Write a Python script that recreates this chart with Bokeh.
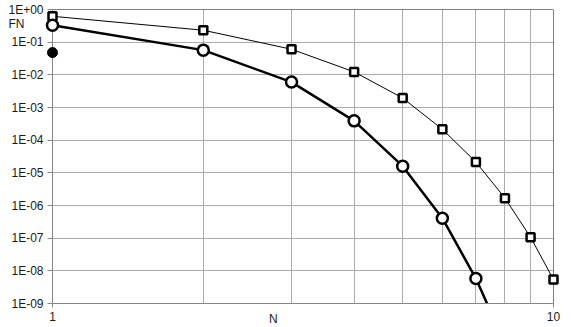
from bokeh.plotting import figure
from bokeh.models import Range1d, FixedTicker, CustomJSTickFormatter, Span
from bokeh.core.properties import value
from bokeh.embed import file_html
from bokeh.resources import INLINE

# ---- data ----
n_square = [1, 2, 3, 4, 5, 6, 7, 8, 9, 10]
fn_square = [0.62, 0.232, 0.0607, 0.0123, 1.95e-3, 2.15e-4, 2.14e-5, 1.68e-6, 1.07e-7, 5.4e-9]

n_circle = [1, 2, 3, 4, 5, 6, 7, 8]
fn_circle = [0.33, 0.057, 6.0e-3, 3.9e-4, 1.6e-5, 4.1e-7, 5.8e-9, 6.0e-11]

n_point = [1]
fn_point = [0.048]

y_ticks = [1e-9, 1e-8, 1e-7, 1e-6, 1e-5, 1e-4, 1e-3, 1e-2, 1e-1, 1.0]
x_ticks = [1, 10]
x_grid = [1, 2, 3, 4, 5, 6, 7, 8, 9, 10]

y_title = "FN"
x_title = "N"

FONT = "Liberation Sans"
AXIS_GRAY = "#868686"
GRID_GRAY = "#ababab"
TEXT = "#1a1a1a"
FS = "12px"

p = figure(width=571, height=327, output_backend="svg", toolbar_location=None,
           x_axis_type="log", y_axis_type="log",
           x_range=Range1d(1, 10), y_range=Range1d(1e-9, 1),
           min_border_left=52, min_border_right=18, min_border_top=9,
           min_border_bottom=24)
p.outline_line_color = None
p.background_fill_color = "white"
p.border_fill_color = "white"

xaxis = p.xaxis[0]
yaxis = p.yaxis[0]
xaxis.ticker = FixedTicker(ticks=x_ticks)
xaxis.formatter = CustomJSTickFormatter(code="return String(Math.round(tick));")
yaxis.ticker = FixedTicker(ticks=y_ticks)
yaxis.formatter = CustomJSTickFormatter(code="""
const e = Math.round(Math.log10(tick));
const s = Math.abs(e).toString().padStart(2, "0");
return "1E" + (e < 0 ? "-" : "+") + s;
""")
for ax in (xaxis, yaxis):
    ax.axis_line_color = AXIS_GRAY
    ax.major_tick_line_color = AXIS_GRAY
    ax.minor_tick_line_color = None
    ax.major_tick_in = 0
    ax.major_label_text_font = FONT
    ax.major_label_text_font_size = FS
    ax.major_label_text_color = TEXT
xaxis.major_tick_out = 4
xaxis.major_label_standoff = 4
yaxis.major_tick_out = 5
yaxis.major_label_standoff = 4

# grids
p.xgrid[0].ticker = FixedTicker(ticks=x_grid)
p.xgrid[0].grid_line_color = GRID_GRAY
p.ygrid[0].ticker = FixedTicker(ticks=y_ticks)
p.ygrid[0].grid_line_color = GRID_GRAY

# top / right black border
p.add_layout(Span(location=1.0, dimension="width", line_color="black", line_width=1))
p.add_layout(Span(location=10, dimension="height", line_color="black", line_width=1))

# series lines (clipped to the plot area)
p.line(n_square, fn_square, line_color="black", line_width=1)
p.line(n_circle, fn_circle, line_color="black", line_width=2.5)

# markers (not clipped, so edge markers are whole)
p.scatter(n_square, fn_square, marker="square", size=8, line_color="black",
          line_width=2.5, fill_color="white", level="overlay")
p.scatter(n_circle, fn_circle, marker="circle", size=11, line_color="black",
          line_width=2.5, fill_color="white", level="overlay")
p.scatter(n_point, fn_point, marker="circle", size=10, line_color="black",
          fill_color="black", level="overlay")

# axis titles
p.text(x=[0.817], y=[10 ** -0.459], text=[y_title], text_font=value(FONT),
       text_font_size=FS, text_color=TEXT, text_align="left",
       text_baseline="middle", level="overlay")
p.text(x=[2.76], y=[3.24e-10], text=[x_title], text_font=value(FONT),
       text_font_size=FS, text_color=TEXT, text_align="center",
       text_baseline="middle", level="overlay")

open("out.html", "w").write(file_html(p, INLINE))
